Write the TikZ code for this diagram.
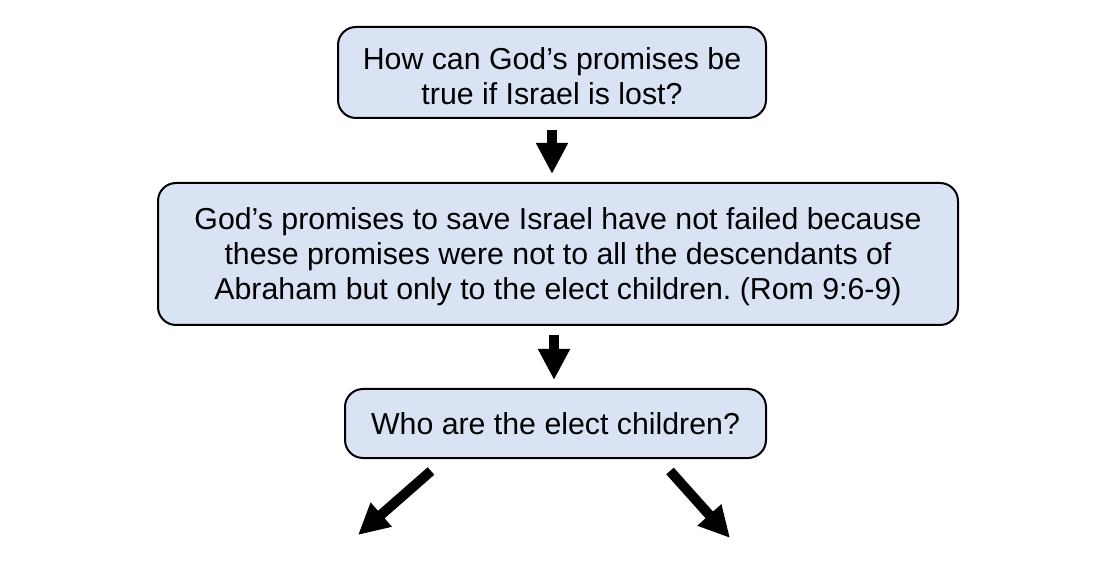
\documentclass[tikz,border=0pt]{standalone}
\usepackage{fontspec}
\setmainfont{Liberation Sans}
\usetikzlibrary{arrows.meta}
\definecolor{boxfill}{HTML}{DAE3F3}
\frenchspacing
\tikzset{
  qbox/.style={draw=black, line width=2pt, fill=boxfill, rounded corners=18pt,
    inner sep=0pt},
  qtext/.style={align=center, inner sep=0pt, font=\fontsize{30.3}{35}\selectfont},
  blockarrow/.style={line width=10pt, -{Triangle[width=30pt,length=31pt]}}
}
\begin{document}
\begin{tikzpicture}[x=1pt,y=-1pt]
\useasboundingbox (0,0) rectangle (1120,561);
\node[qbox, minimum width=428pt, minimum height=91pt,
  label={[qtext, yshift=-3.5pt]center:How can God’s promises be\\true if Israel is lost?}] (q1) at (552,72.5) {};
\node[qbox, minimum width=800pt, minimum height=142pt,
  label={[qtext, yshift=-2.5pt]center:God’s promises to save Israel have not failed because\\these promises were not to all the descendants of\\Abraham but only to the elect children. (Rom 9:6-9)}] (q2) at (558,254) {};
\node[qbox, minimum width=421pt, minimum height=69pt,
  label={[qtext]center:Who are the elect children?}] (q3) at (555.5,423.5) {};
\draw[blockarrow, shorten <=11pt, shorten >=8pt] (552,0 |- q1.south) -- (552,0 |- q2.north);
\draw[blockarrow, shorten <=9pt, shorten >=8pt] (554,0 |- q2.south) -- (554,0 |- q3.north);
\coordinate (l1) at (431,471);
\coordinate (l2) at (358,535);
\coordinate (r1) at (670,471);
\coordinate (r2) at (730,538);
\draw[blockarrow] (l1) -- (l2);
\draw[blockarrow] (r1) -- (r2);
\end{tikzpicture}
\end{document}
